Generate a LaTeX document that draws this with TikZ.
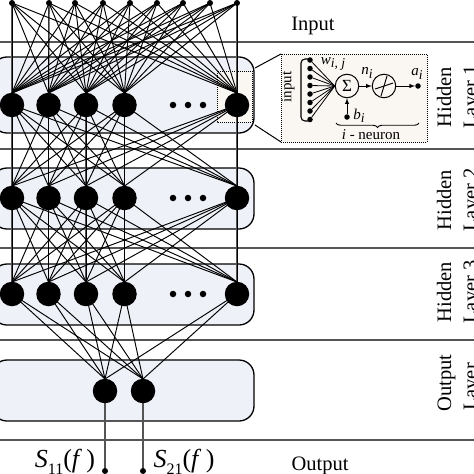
\documentclass[tikz,border=0pt]{standalone}
\usepackage{fontspec}
\setmainfont{Liberation Serif}
\usetikzlibrary{decorations.pathreplacing}
\definecolor{panelblue}{HTML}{EEF2F8}
\definecolor{insetfill}{HTML}{FAF7F3}
\definecolor{rulegrey}{HTML}{555555}
\newcommand{\symsub}[2]{\textit{#1}\raisebox{-.22em}{\fontsize{13.5}{14}\selectfont #2}}
\newcommand{\bigsub}[2]{\textit{#1}\raisebox{-.25em}{\fontsize{16}{17}\selectfont #2}}
\tikzset{
  layerbox/.style={draw=black,line width=1.3pt,fill=panelblue,rounded corners=15pt},
  bigdot/.style={circle,fill=black,minimum size=24.5pt,inner sep=0pt},
  smalldot/.style={circle,fill=black,minimum size=5.5pt,inner sep=0pt},
  tinydot/.style={circle,fill=black,minimum size=6pt,inner sep=0pt},
  elldot/.style={circle,fill=black,minimum size=6.5pt,inner sep=0pt},
  sep/.style={draw=rulegrey,line width=1.2pt},
  vline/.style={draw=rulegrey,line width=1.1pt},
  wire/.style={draw=black,line width=.95pt},
  fan wire/.style={draw=black,line width=.8pt},
  lab/.style={font=\fontsize{20.5}{22}\selectfont,inner sep=0pt},
  sidelab/.style={lab,rotate=90,anchor=base},
  small/.style={font=\fontsize{15}{16}\selectfont,inner sep=0pt},
  opdisc/.style={circle,draw=black,line width=1pt,fill=insetfill,minimum size=23.5pt,inner sep=0pt},
  inset/.style={draw=black,densely dotted,line width=1pt,fill=insetfill},
}
\begin{document}
\begin{tikzpicture}[x=1pt,y=-1pt]
\useasboundingbox (0,0) rectangle (474,474);
% separators
\foreach \yy in {42,149,248,340,440} \draw[sep] (0,\yy) -- (474,\yy);
% layer boxes
\draw[layerbox] (-8,57) rectangle (254,133);
\draw[layerbox] (-8,168) rectangle (254,229);
\draw[layerbox] (-8,264) rectangle (254,325);
\draw[layerbox] (-8,360) rectangle (254,421);
% small dotted frame
\draw[inset] (217,71) rectangle (252,122);
% node positions (drawn last, so coordinates first)
\foreach \n/\xx in {1/12,2/49,3/75,4/103,5/130,6/157,7/183,8/210,9/237}
  \coordinate (in\n) at (\xx,3);
\foreach \n/\xx in {1/12,2/48.5,3/86,4/124.5,5/237}{
  \coordinate (a\n) at (\xx,105);
  \coordinate (b\n) at (\xx,198);
  \coordinate (c\n) at (\xx,294);
  \coordinate (at\n) at (\xx,93);
  \coordinate (bt\n) at (\xx,186);
  \coordinate (ct\n) at (\xx,282);
}
\coordinate (o1) at (105,391);
\coordinate (o2) at (143,391);
\coordinate (ot1) at (105,379);
\coordinate (ot2) at (143,379);
\coordinate (s1) at (105,471);
\coordinate (s2) at (143,471);
% connectors
\foreach \i/\k in {1/1,2/2,9/5}
  \draw[vline] (in\i) -- (a\k);
\foreach \k in {1,...,5}{
  \draw[vline] (a\k) -- (b\k);
  \draw[vline] (b\k) -- (c\k);
}
\draw[vline] (o1) -- (s1);
\draw[vline] (o2) -- (s2);
\foreach \i in {1,...,9} \foreach \k in {1,...,5}
  \draw[wire] (in\i) -- (at\k);
\foreach \i in {1,...,5} \foreach \k in {1,...,5}{
  \draw[wire] (a\i) -- (bt\k);
  \draw[wire] (b\i) -- (ct\k);
}
\foreach \i in {1,...,5} \foreach \k in {1,2}
  \draw[wire] (c\i) -- (ot\k);
% dots
\foreach \n in {1,...,9} \node[tinydot] (ind\n) at (in\n) {};
\foreach \n in {1,...,5}{
  \node[bigdot] (ad\n) at (a\n) {};
  \node[bigdot] (bd\n) at (b\n) {};
  \node[bigdot] (cd\n) at (c\n) {};
}
\node[bigdot] (od1) at (o1) {};
\node[bigdot] (od2) at (o2) {};
\node[tinydot] (sd1) at (s1) {};
\node[tinydot] (sd2) at (s2) {};
\foreach \yy/\t in {105/a,198/b,294/c}{
  \node[elldot] (\t e1) at (173,\yy) {};
  \node[elldot] (\t e2) at (188,\yy) {};
  \node[elldot] (\t e3) at (203,\yy) {};
}
% inset
\coordinate (zt) at (255,68);
\coordinate (zb) at (255,125);
\coordinate (zit) at (281,54);
\coordinate (zib) at (281,142);
\draw[wire,line width=1pt] (zt) -- (zit);
\draw[wire,line width=1pt] (zb) -- (zib);
\draw[inset] (zit) rectangle (427,142);
\node[opdisc] (sig) at (347,86) {\fontsize{17}{17}\selectfont Σ};
\node[opdisc] (act) at (384,86) {};
\coordinate (acta) at (381,96);
\coordinate (actb) at (387,76);
\draw[wire] (acta) -- (actb);
\draw[wire] (375,89) -- (393,83);
\node[smalldot] (out) at (418,86) {};
\node[smalldot] (bias) at (347,117) {};
\draw[wire,-latex] (sig) -- (act);
\draw[wire,-latex] (act) -- (out);
\draw[wire,-latex] (bias) -- (sig);
\foreach \n/\yy in {1/60,2/68.5,3/77,4/85.5,5/94,6/102.5,7/111,8/119.5}{
  \node[smalldot] (d\n) at (310,\yy) {};
  \draw[fan wire] (d\n) -- (sig.west);
}
\draw[wire,line width=1.1pt,rounded corners=4pt] (308,59) -- (301,59) -- (301,121) -- (308,121);
\draw[wire,decorate,decoration={brace,amplitude=4.5pt,mirror}] (336,123) -- (419,123);
\node[small,rotate=90] (inlab) at (288,87) {input};
\node[small] (wl) at (333,64) {\symsub{w}{\textit{i, j}}};
\node[small] (nl) at (367,73) {\symsub{n}{\textit{i}}};
\node[small] (al) at (417,74) {\symsub{a}{\textit{i}}};
\node[small] (bl) at (359,116) {\symsub{b}{\textit{i}}};
\node[small] (nlab) at (371,135) {\textit{i} - neuron};
% labels
\node[lab] (inp) at (313,26) {Input};
\node[lab] (outp) at (320,466) {Output};
\node[sidelab] (h1) at (451,97) {Hidden};
\node[sidelab] (l1) at (477,97) {Layer 1};
\node[sidelab] (h2) at (451,200) {Hidden};
\node[sidelab] (l2) at (477,200) {Layer 2};
\node[sidelab] (h3) at (451,292) {Hidden};
\node[sidelab] (l3) at (477,292) {Layer 3};
\node[sidelab] (h4) at (451,383) {Output};
\node[sidelab] (l4) at (477,387) {Layer};
\node[lab,font=\fontsize{26}{27}\selectfont] (s11) at (65,462) {\bigsub{S}{11}(\textit{f}\,)};
\node[lab,font=\fontsize{26}{27}\selectfont] (s21) at (184,462) {\bigsub{S}{21}(\textit{f}\,)};
\end{tikzpicture}
\end{document}
